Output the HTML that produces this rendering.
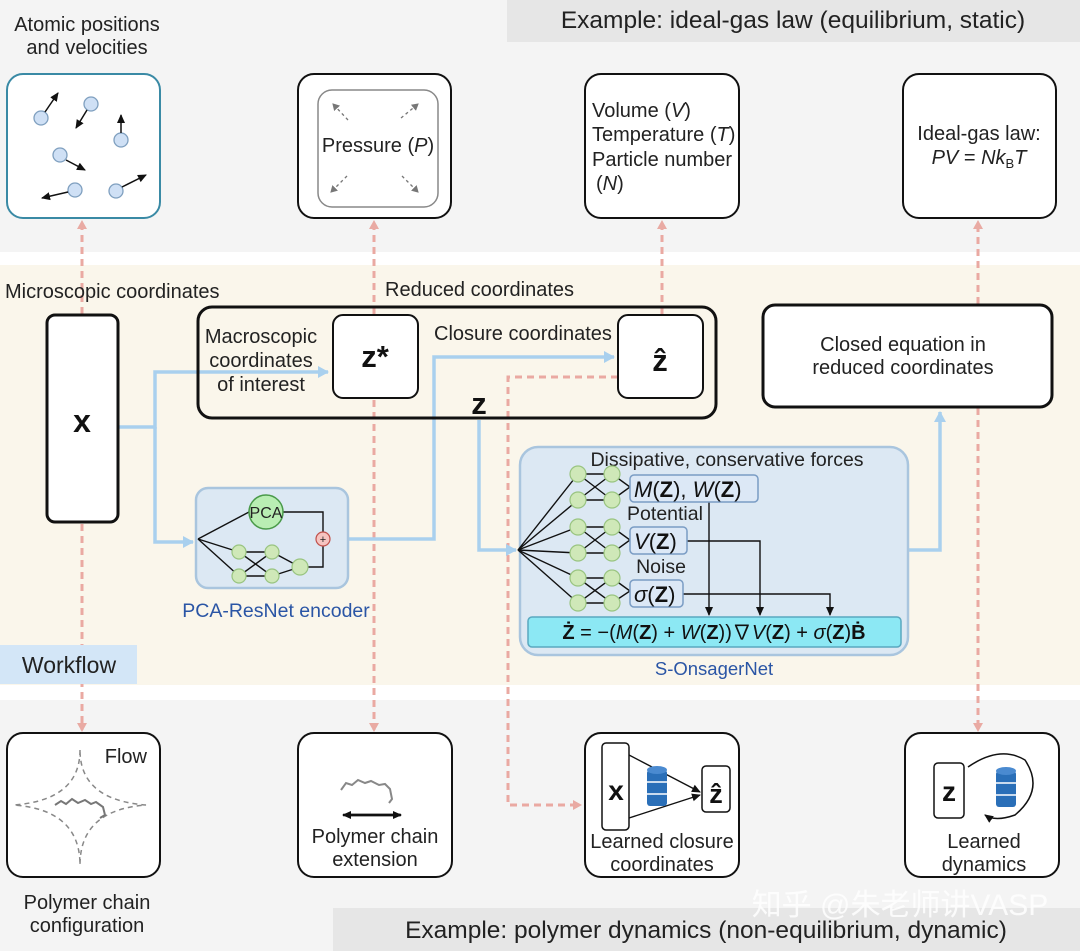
<!DOCTYPE html>
<html><head><meta charset="utf-8"><style>
html,body{margin:0;padding:0;background:#fff;}
svg{display:block;font-family:"Liberation Sans","Noto Sans CJK SC",sans-serif;}
</style></head><body>
<svg width="1080" height="951" viewBox="0 0 1080 951" xmlns="http://www.w3.org/2000/svg">
<defs>
<marker id="pk" markerWidth="10" markerHeight="10" refX="7" refY="5" orient="auto" markerUnits="userSpaceOnUse"><path d="M0,0 L9,5 L0,10 Z" fill="#e9aaa3"/></marker>
<marker id="bl" markerWidth="12" markerHeight="12" refX="10" refY="6" orient="auto" markerUnits="userSpaceOnUse"><path d="M0,0 L11,6 L0,12 Z" fill="#a9d0ee"/></marker>
<marker id="bk" markerWidth="10" markerHeight="10" refX="8" refY="5" orient="auto" markerUnits="userSpaceOnUse"><path d="M0,1 L9,5 L0,9 Z" fill="#111"/></marker>
<marker id="gk" markerWidth="8" markerHeight="8" refX="6" refY="4" orient="auto" markerUnits="userSpaceOnUse"><path d="M0,0 L7,4 L0,8 Z" fill="#777"/></marker>
</defs>
<rect x="0" y="0" width="1080" height="252" fill="#f4f4f4"/>
<rect x="0" y="265" width="1080" height="420" fill="#faf6eb"/>
<rect x="0" y="700" width="1080" height="251" fill="#f4f4f4"/>
<rect x="507" y="0" width="573" height="42" fill="#e6e6e6"/>
<text x="793" y="28" font-size="24.5" text-anchor="middle" fill="#222">Example: ideal-gas law (equilibrium, static)</text>
<rect x="333" y="908" width="747" height="43" fill="#e6e6e6"/>
<text x="706" y="938" font-size="24.5" text-anchor="middle" fill="#222">Example: polymer dynamics (non-equilibrium, dynamic)</text>
<text x="900" y="915" font-size="30" text-anchor="middle" fill="#fff" opacity="0.85">知乎 @朱老师讲VASP</text>

<g stroke="#eaa9a2" stroke-width="3" stroke-dasharray="7,5" fill="none">
<line x1="82" y1="314" x2="82" y2="222" marker-end="url(#pk)"/>
<line x1="82" y1="524" x2="82" y2="730" marker-end="url(#pk)"/>
<line x1="374" y1="314" x2="374" y2="222" marker-end="url(#pk)"/>
<line x1="374" y1="400" x2="374" y2="730" marker-end="url(#pk)"/>
<line x1="662" y1="314" x2="662" y2="222" marker-end="url(#pk)"/>
<line x1="978" y1="304" x2="978" y2="222" marker-end="url(#pk)"/>
<line x1="978" y1="408" x2="978" y2="730" marker-end="url(#pk)"/>
<polyline points="618,377 508,377 508,805 580,805" marker-end="url(#pk)"/>
</g>

<rect x="7" y="74" width="153" height="144" rx="16" fill="#fff" stroke="#3a8aa5" stroke-width="2"/>
<text x="87" y="31" font-size="20" text-anchor="middle" fill="#222">Atomic positions</text>
<text x="87" y="54" font-size="20" text-anchor="middle" fill="#222">and velocities</text>
<g fill="#cfe0f5" stroke="#7f9fbf" stroke-width="1.3">
<circle cx="41" cy="118" r="7"/><circle cx="91" cy="104" r="7"/><circle cx="121" cy="140" r="7"/>
<circle cx="60" cy="155" r="7"/><circle cx="75" cy="190" r="7"/><circle cx="116" cy="191" r="7"/>
</g>
<g stroke="#111" stroke-width="1.5" marker-end="url(#bk)">
<line x1="45" y1="112" x2="58" y2="93"/><line x1="87" y1="110" x2="76" y2="128"/>
<line x1="121" y1="133" x2="121" y2="115"/><line x1="66" y1="160" x2="85" y2="170"/>
<line x1="68" y1="192" x2="42" y2="198"/><line x1="122" y1="187" x2="146" y2="175"/>
</g>

<rect x="298" y="74" width="153" height="144" rx="16" fill="#fff" stroke="#111" stroke-width="2"/>
<rect x="318" y="90" width="120" height="117" rx="14" fill="#fff" stroke="#888" stroke-width="1.5"/>
<text x="378" y="152" font-size="20" text-anchor="middle" fill="#222">Pressure (<tspan font-style="italic">P</tspan>)</text>
<g stroke="#777" stroke-width="1.3" stroke-dasharray="3,3" marker-end="url(#gk)">
<line x1="348" y1="120" x2="333" y2="104"/><line x1="401" y1="118" x2="418" y2="104"/>
<line x1="347" y1="176" x2="331" y2="192"/><line x1="402" y1="176" x2="418" y2="192"/>
</g>

<rect x="585" y="74" width="154" height="144" rx="16" fill="#fff" stroke="#111" stroke-width="2"/>
<g font-size="20" fill="#222">
<text x="592" y="117">Volume (<tspan font-style="italic">V</tspan>)</text>
<text x="592" y="141">Temperature (<tspan font-style="italic">T</tspan>)</text>
<text x="592" y="166">Particle number</text>
<text x="596" y="190">(<tspan font-style="italic">N</tspan>)</text>
</g>
<rect x="903" y="74" width="153" height="144" rx="16" fill="#fff" stroke="#111" stroke-width="2"/>
<text x="979" y="140" font-size="20" text-anchor="middle" fill="#222">Ideal-gas law:</text>
<text x="979" y="164" font-size="20" text-anchor="middle" fill="#222" font-style="italic">PV <tspan font-style="normal">=</tspan> Nk<tspan font-size="13" dy="4" font-style="normal">B</tspan><tspan dy="-4">T</tspan></text>

<text x="5" y="298" font-size="20" fill="#222">Microscopic coordinates</text>
<text x="385" y="296" font-size="20" fill="#222">Reduced coordinates</text>

<g stroke="#a9d0ee" stroke-width="3.5" fill="none">
<polyline points="118,427 155,427 155,372 328,372" marker-end="url(#bl)"/>
<polyline points="155,427 155,542 193,542" marker-end="url(#bl)"/>
<polyline points="330,539 434,539 434,357 614,357" marker-end="url(#bl)"/>
<polyline points="479,420 479,550 516,550" marker-end="url(#bl)"/>
<polyline points="908,550 940,550 940,412" marker-end="url(#bl)"/>
</g>

<rect x="47" y="315" width="71" height="207" rx="8" fill="#fff" stroke="#111" stroke-width="3"/>
<text x="82" y="432" font-size="32" font-weight="bold" text-anchor="middle" fill="#111">x</text>

<rect x="198" y="307" width="518" height="111" rx="14" fill="none" stroke="#111" stroke-width="3"/>
<g font-size="20" fill="#222" text-anchor="middle">
<text x="261" y="343">Macroscopic</text><text x="261" y="367">coordinates</text><text x="261" y="391">of interest</text>
</g>
<rect x="333" y="315" width="85" height="83" rx="10" fill="#fff" stroke="#111" stroke-width="2"/>
<text x="375" y="367" font-size="31" font-weight="bold" text-anchor="middle" fill="#111">z*</text>
<text x="434" y="340" font-size="20" fill="#222">Closure coordinates</text>
<rect x="618" y="315" width="85" height="83" rx="10" fill="#fff" stroke="#111" stroke-width="2"/>
<text x="660" y="371" font-size="31" font-weight="bold" text-anchor="middle" fill="#111">ẑ</text>
<text x="479" y="414" font-size="31" font-weight="bold" text-anchor="middle" fill="#111">z</text>

<rect x="763" y="305" width="289" height="102" rx="12" fill="#fff" stroke="#111" stroke-width="3"/>
<text x="903" y="351" font-size="20" text-anchor="middle" fill="#222">Closed equation in</text>
<text x="903" y="374" font-size="20" text-anchor="middle" fill="#222">reduced coordinates</text>

<rect x="196" y="488" width="152" height="100" rx="12" fill="#dce8f3" stroke="#a9c5de" stroke-width="2.5"/>
<g stroke="#111" stroke-width="1.4" fill="none">
<line x1="198" y1="539" x2="249" y2="512"/><line x1="198" y1="539" x2="239" y2="552"/><line x1="198" y1="539" x2="239" y2="576"/>
<line x1="239" y1="552" x2="272" y2="552"/><line x1="239" y1="576" x2="272" y2="576"/>
<line x1="239" y1="552" x2="272" y2="576"/><line x1="239" y1="576" x2="272" y2="552"/>
<line x1="272" y1="552" x2="300" y2="567"/><line x1="272" y1="576" x2="300" y2="567"/>
<polyline points="283,512 323,512 323,532"/><polyline points="300,567 323,567 323,546"/>
</g>
<circle cx="266" cy="512" r="17" fill="#b9eeb3" stroke="#4a9a4a" stroke-width="1.5"/>
<text x="266" y="518" font-size="16" text-anchor="middle" fill="#222">PCA</text>
<g fill="#cfe8b8" stroke="#99c480" stroke-width="1.2">
<circle cx="239" cy="552" r="7"/><circle cx="239" cy="576" r="7"/><circle cx="272" cy="552" r="7"/><circle cx="272" cy="576" r="7"/><circle cx="300" cy="567" r="8"/>
</g>
<circle cx="323" cy="539" r="7" fill="#f6c4c0" stroke="#c0504a" stroke-width="1.2"/>
<text x="323" y="543" font-size="11" text-anchor="middle" fill="#222">+</text>
<text x="276" y="617" font-size="19.5" text-anchor="middle" fill="#2a55a5">PCA-ResNet encoder</text>

<rect x="520" y="447" width="388" height="208" rx="18" fill="#dce8f3" stroke="#a9c5de" stroke-width="2.5"/>
<text x="727" y="466" font-size="19.5" text-anchor="middle" fill="#222">Dissipative, conservative forces</text>
<text x="665" y="520" font-size="19.5" text-anchor="middle" fill="#222">Potential</text>
<text x="661" y="573" font-size="19.5" text-anchor="middle" fill="#222">Noise</text>
<g stroke="#111" stroke-width="1.4" fill="none">
<line x1="518" y1="550" x2="578" y2="474"/><line x1="518" y1="550" x2="578" y2="500"/>
<line x1="518" y1="550" x2="578" y2="527"/><line x1="518" y1="550" x2="578" y2="553"/>
<line x1="518" y1="550" x2="578" y2="578"/><line x1="518" y1="550" x2="578" y2="603"/>
<path d="M578,474 L612,474 L578,500 L612,500 L578,474 M612,474 L630,487 L612,500"/>
<path d="M578,527 L612,527 L578,553 L612,553 L578,527 M612,527 L630,540 L612,553"/>
<path d="M578,578 L612,578 L578,603 L612,603 L578,578 M612,578 L630,591 L612,603"/>
<polyline points="709,500 709,615" marker-end="url(#bk)"/>
<polyline points="687,541 760,541 760,615" marker-end="url(#bk)"/>
<polyline points="683,594 830,594 830,615" marker-end="url(#bk)"/>
</g>
<g fill="#cfe8b8" stroke="#99c480" stroke-width="1.2">
<circle cx="578" cy="474" r="8"/><circle cx="578" cy="500" r="8"/><circle cx="612" cy="474" r="8"/><circle cx="612" cy="500" r="8"/>
<circle cx="578" cy="527" r="8"/><circle cx="578" cy="553" r="8"/><circle cx="612" cy="527" r="8"/><circle cx="612" cy="553" r="8"/>
<circle cx="578" cy="578" r="8"/><circle cx="578" cy="603" r="8"/><circle cx="612" cy="578" r="8"/><circle cx="612" cy="603" r="8"/>
</g>
<g fill="#dce8f6" stroke="#7a9cc4" stroke-width="1.5">
<rect x="630" y="475" width="128" height="27" rx="4"/>
<rect x="630" y="527" width="57" height="27" rx="4"/>
<rect x="630" y="580" width="53" height="27" rx="4"/>
</g>
<g font-size="22" fill="#111">
<text x="634" y="497"><tspan font-style="italic">M</tspan>(<tspan font-weight="bold">Z</tspan>), <tspan font-style="italic">W</tspan>(<tspan font-weight="bold">Z</tspan>)</text>
<text x="634" y="549"><tspan font-style="italic">V</tspan>(<tspan font-weight="bold">Z</tspan>)</text>
<text x="634" y="602"><tspan font-style="italic">σ</tspan>(<tspan font-weight="bold">Z</tspan>)</text>
</g>
<rect x="528" y="617" width="373" height="30" rx="4" fill="#8ce8f4" stroke="#5aa8c0" stroke-width="1.5"/>
<text x="714" y="639" font-size="20" text-anchor="middle" fill="#111"><tspan font-weight="bold">Ż</tspan> = −(<tspan font-style="italic">M</tspan>(<tspan font-weight="bold">Z</tspan>) + <tspan font-style="italic">W</tspan>(<tspan font-weight="bold">Z</tspan>))∇<tspan font-style="italic">V</tspan>(<tspan font-weight="bold">Z</tspan>) + <tspan font-style="italic">σ</tspan>(<tspan font-weight="bold">Z</tspan>)<tspan font-weight="bold">Ḃ</tspan></text>
<text x="714" y="675" font-size="18.5" text-anchor="middle" fill="#2a55a5">S-OnsagerNet</text>

<rect x="0" y="645" width="137" height="39" fill="#d3e6f7"/>
<text x="69" y="673" font-size="23" text-anchor="middle" fill="#222">Workflow</text>

<rect x="7" y="733" width="153" height="144" rx="16" fill="#fff" stroke="#111" stroke-width="2"/>
<text x="147" y="763" font-size="20" text-anchor="end" fill="#222">Flow</text>
<g stroke="#888" stroke-width="1.5" stroke-dasharray="5,4" fill="none">
<path d="M80,750 Q80,800 14,805 Q80,810 80,865 Q80,810 146,805 Q80,800 80,750"/>
</g>
<path d="M55,805 l6,-4 l5,3 l6,-5 l6,4 l7,-3 l6,4 l5,-2 l7,5 l2,8 l-5,3" stroke="#777" stroke-width="2" fill="none"/>
<text x="87" y="909" font-size="20" text-anchor="middle" fill="#222">Polymer chain</text>
<text x="87" y="932" font-size="20" text-anchor="middle" fill="#222">configuration</text>

<rect x="298" y="733" width="154" height="144" rx="16" fill="#fff" stroke="#111" stroke-width="2"/>
<path d="M341,790 l5,-7 l6,2 l6,-5 l7,3 l6,-2 l8,4 l6,-1 l5,5 l2,10 l-3,4" stroke="#888" stroke-width="2" fill="none"/>
<g stroke="#111" stroke-width="2.5">
<line x1="350" y1="815" x2="401" y2="815" marker-end="url(#bk)"/>
<line x1="400" y1="815" x2="343" y2="815" marker-end="url(#bk)"/>
</g>
<text x="375" y="843" font-size="20" text-anchor="middle" fill="#222">Polymer chain</text>
<text x="375" y="866" font-size="20" text-anchor="middle" fill="#222">extension</text>

<rect x="585" y="733" width="154" height="144" rx="16" fill="#fff" stroke="#111" stroke-width="2"/>
<rect x="602" y="743" width="27" height="87" rx="4" fill="#fff" stroke="#111" stroke-width="1.5"/>
<text x="616" y="800" font-size="28" font-weight="bold" text-anchor="middle" fill="#111">x</text>
<g stroke="#111" stroke-width="1.4"><line x1="629" y1="755" x2="700" y2="792" marker-end="url(#bk)"/><line x1="629" y1="818" x2="700" y2="795" marker-end="url(#bk)"/></g>
<rect x="647" y="770" width="20" height="36" rx="3" fill="#2a6fb8"/>
<ellipse cx="657" cy="770" rx="10" ry="4" fill="#4a8ad0"/>
<line x1="647" y1="782" x2="667" y2="782" stroke="#fff" stroke-width="1.5"/><line x1="647" y1="794" x2="667" y2="794" stroke="#fff" stroke-width="1.5"/>
<rect x="702" y="766" width="28" height="46" rx="4" fill="#fff" stroke="#111" stroke-width="1.5"/>
<text x="716" y="803" font-size="27" font-weight="bold" text-anchor="middle" fill="#111">ẑ</text>
<text x="662" y="848" font-size="20" text-anchor="middle" fill="#222">Learned closure</text>
<text x="662" y="871" font-size="20" text-anchor="middle" fill="#222">coordinates</text>

<rect x="905" y="733" width="154" height="144" rx="16" fill="#fff" stroke="#111" stroke-width="2"/>
<rect x="934" y="763" width="30" height="55" rx="4" fill="#fff" stroke="#111" stroke-width="1.5"/>
<text x="949" y="801" font-size="28" font-weight="bold" text-anchor="middle" fill="#111">z</text>
<path d="M968,767 Q1000,745 1025,760 Q1045,790 1015,815 Q995,822 985,815" stroke="#111" stroke-width="1.5" fill="none" marker-end="url(#bk)"/>
<rect x="996" y="771" width="20" height="36" rx="3" fill="#2a6fb8"/>
<ellipse cx="1006" cy="771" rx="10" ry="4" fill="#4a8ad0"/>
<line x1="996" y1="783" x2="1016" y2="783" stroke="#fff" stroke-width="1.5"/><line x1="996" y1="795" x2="1016" y2="795" stroke="#fff" stroke-width="1.5"/>
<text x="984" y="848" font-size="20" text-anchor="middle" fill="#222">Learned</text>
<text x="984" y="871" font-size="20" text-anchor="middle" fill="#222">dynamics</text>
</svg>
</body></html>
